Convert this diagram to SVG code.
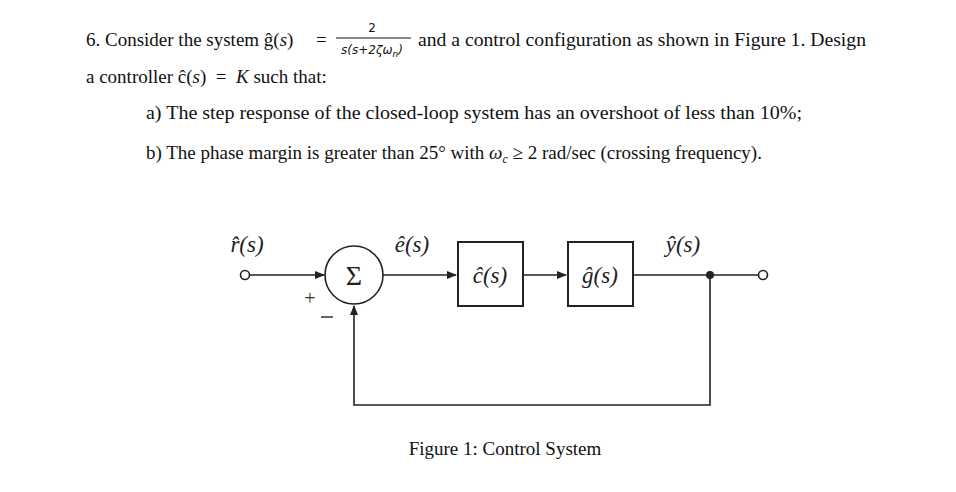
<svg xmlns="http://www.w3.org/2000/svg" width="956" height="492" viewBox="0 0 956 492">
<style>
.t{font-family:"Liberation Serif",serif;font-size:19px;fill:#111}
.m{font-family:"Liberation Serif",serif;font-style:italic;font-size:23px;fill:#222}
.s{font-family:"DejaVu Sans",sans-serif;font-size:12px;fill:#111}
.ln{stroke:#222;stroke-width:1.6;fill:none}
.bx{stroke:#222;stroke-width:2;fill:#fff}
</style>
<defs><marker id="a" markerWidth="10" markerHeight="8" refX="9" refY="4" orient="auto" markerUnits="userSpaceOnUse"><path d="M0,0L10,4L0,8z" fill="#222"/></marker></defs>
<rect width="956" height="492" fill="#fff"/>
<g id="text">
<text class="t" x="86" y="46">6. Consider the system ĝ(<tspan font-style="italic">s</tspan>)</text>
<text class="t" x="316" y="46">=</text>
<text class="s" x="372" y="32" text-anchor="middle">2</text>
<line x1="336" y1="38" x2="411" y2="38" stroke="#111" stroke-width="1"/>
<text class="s" x="372" y="54" text-anchor="middle" font-style="italic">s(s+2ζω<tspan font-size="9" dy="3">n</tspan><tspan dy="-3">)</tspan></text>
<text class="t" x="418" y="46" textLength="448" lengthAdjust="spacingAndGlyphs">and a control configuration as shown in Figure 1. Design</text>
<text class="t" x="86" y="83" xml:space="preserve">a controller ĉ(<tspan font-style="italic">s</tspan>)  =  <tspan font-style="italic">K</tspan> such that:</text>
<text class="t" x="146" y="119" textLength="656" lengthAdjust="spacingAndGlyphs">a) The step response of the closed-loop system has an overshoot of less than 10%;</text>
<text class="t" x="146" y="159">b) The phase margin is greater than 25° with <tspan font-style="italic">ω</tspan><tspan font-size="12" dy="4" font-style="italic">c</tspan><tspan dy="-4"> ≥ 2 rad/sec (crossing frequency).</tspan></text>
<text class="t" x="505" y="455" text-anchor="middle">Figure 1: Control System</text>
</g>
<g id="connectors">
<path class="ln" d="M249,275H324" marker-end="url(#a)"/>
<path class="ln" d="M382,275H456" marker-end="url(#a)"/>
<path class="ln" d="M523,275H566" marker-end="url(#a)"/>
<path class="ln" d="M633,275H758"/>
<path class="ln" d="M710,275V405H354V306" marker-end="url(#a)"/>
<circle cx="710" cy="275" r="4" fill="#222"/>
</g>
<g id="r"><circle cx="245" cy="275" r="4.5" fill="#fff" stroke="#222" stroke-width="1.6"/><text class="m" x="247" y="252" text-anchor="middle">r̂(s)</text></g>
<g id="sum"><circle cx="354" cy="275" r="29" fill="#fff" stroke="#222" stroke-width="1.6"/><text x="354" y="285" text-anchor="middle" font-family="Liberation Serif,serif" font-size="28" fill="#222">Σ</text>
<text x="310" y="305" font-family="Liberation Serif,serif" font-size="20" fill="#333" text-anchor="middle">+</text>
<line x1="321" y1="317" x2="333" y2="317" stroke="#333" stroke-width="1.5"/></g>
<g id="e"><text class="m" x="412" y="252" text-anchor="middle">ê(s)</text></g>
<g id="c"><rect class="bx" x="458" y="242" width="65" height="64"/><text class="m" x="490" y="283" text-anchor="middle">ĉ(s)</text></g>
<g id="g"><rect class="bx" x="568" y="242" width="65" height="64"/><text class="m" x="600" y="283" text-anchor="middle">ĝ(s)</text></g>
<g id="y"><circle cx="763" cy="275" r="4.5" fill="#fff" stroke="#222" stroke-width="1.6"/><text class="m" x="683" y="252" text-anchor="middle">ŷ(s)</text></g>
</svg>
